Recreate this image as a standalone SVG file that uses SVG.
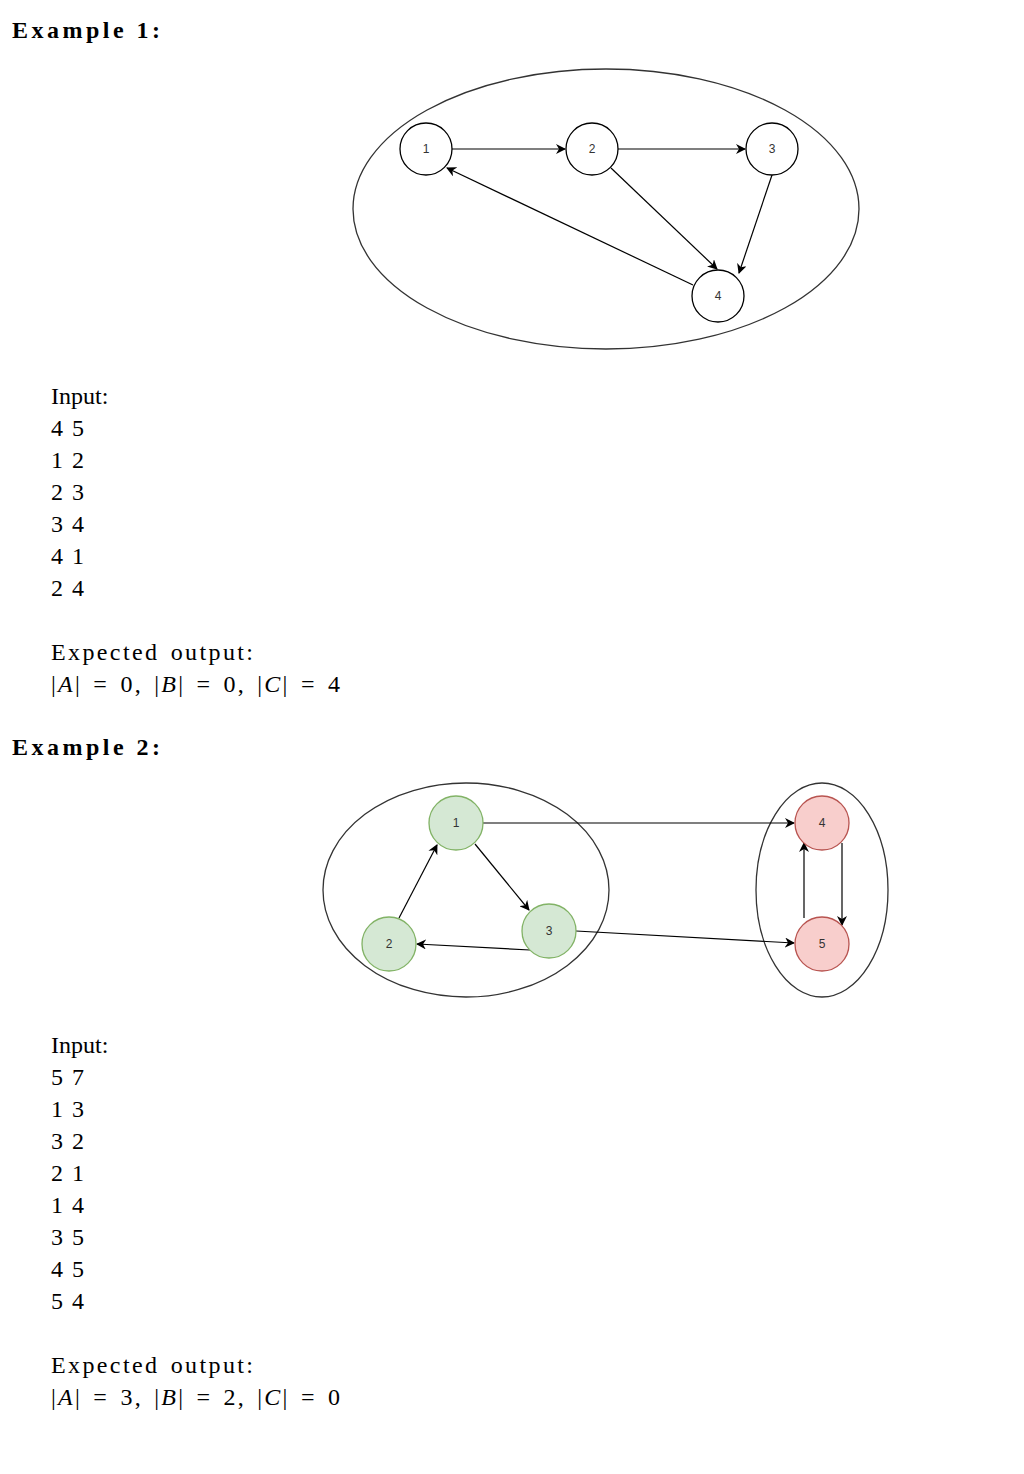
<svg xmlns="http://www.w3.org/2000/svg" width="1024" height="1474" viewBox="0 0 1024 1474">
<style>
.t{font-family:"Liberation Serif","DejaVu Serif",serif;font-size:24px;fill:#000;word-spacing:3px}
.h{font-family:"Liberation Serif","DejaVu Serif",serif;font-size:24px;font-weight:bold;fill:#000}
.i{font-style:italic}
.el{fill:none;stroke:#333;stroke-width:1.3}
.n circle{fill:#fff;stroke:#000;stroke-width:1.3}
.g circle{fill:#d5e8d4;stroke:#82b366;stroke-width:1.3}
.r circle{fill:#f8cecc;stroke:#b85450;stroke-width:1.3}
.lb{font-family:"Liberation Sans",Arial,sans-serif;font-size:12px;fill:#333;text-anchor:middle;dominant-baseline:central}
.e line{stroke:#000;stroke-width:1.2;marker-end:url(#a)}
</style>
<defs><marker id="a" viewBox="0 0 10 10" refX="9" refY="5" markerWidth="10" markerHeight="10" markerUnits="userSpaceOnUse" orient="auto"><path d="M0,0 L10,5 L0,10 L3,5 z" fill="#000"/></marker></defs>
<rect width="1024" height="1474" fill="#fff"/>
<text class="h" x="12" y="38" textLength="148" lengthAdjust="spacing">Example 1:</text>
<ellipse class="el" cx="606" cy="209" rx="253" ry="140"/>
<g class="e" id="edges1">
<line x1="452" y1="149" x2="565" y2="149"/>
<line x1="618" y1="149" x2="745" y2="149"/>
<line x1="772" y1="175" x2="739" y2="273"/>
<line x1="611" y1="168" x2="717" y2="269"/>
<line x1="693" y1="285" x2="447" y2="168"/>
</g>
<g id="n1" class="n"><circle cx="426" cy="149" r="26"/><text class="lb" x="426" y="149">1</text></g>
<g id="n2" class="n"><circle cx="592" cy="149" r="26"/><text class="lb" x="592" y="149">2</text></g>
<g id="n3" class="n"><circle cx="772" cy="149" r="26"/><text class="lb" x="772" y="149">3</text></g>
<g id="n4" class="n"><circle cx="718" cy="296" r="26"/><text class="lb" x="718" y="296">4</text></g>
<text class="t" x="51" y="404">Input:</text>
<text class="t" x="51" y="436">4 5</text>
<text class="t" x="51" y="468">1 2</text>
<text class="t" x="51" y="500">2 3</text>
<text class="t" x="51" y="532">3 4</text>
<text class="t" x="51" y="564">4 1</text>
<text class="t" x="51" y="596">2 4</text>
<text class="t" x="51" y="660" textLength="202" lengthAdjust="spacing">Expected output:</text>
<text class="t" x="51" y="692" textLength="289" lengthAdjust="spacing">|<tspan class="i">A</tspan>| = 0, |<tspan class="i">B</tspan>| = 0, |<tspan class="i">C</tspan>| = 4</text>
<text class="h" x="12" y="755" textLength="148" lengthAdjust="spacing">Example 2:</text>
<ellipse class="el" cx="466" cy="890" rx="143" ry="107"/>
<ellipse class="el" cx="822" cy="890" rx="66" ry="107"/>
<g class="e" id="edges2">
<line x1="483" y1="823" x2="794" y2="823"/>
<line x1="475" y1="844" x2="529" y2="910"/>
<line x1="530" y1="950" x2="417" y2="944"/>
<line x1="399" y1="918" x2="437" y2="845"/>
<line x1="576" y1="931" x2="794" y2="943"/>
<line x1="842" y1="843" x2="842" y2="925"/>
<line x1="804" y1="918" x2="804" y2="843"/>
</g>
<g id="m1" class="g"><circle cx="456" cy="823" r="27"/><text class="lb" x="456" y="823">1</text></g>
<g id="m2" class="g"><circle cx="389" cy="944" r="27"/><text class="lb" x="389" y="944">2</text></g>
<g id="m3" class="g"><circle cx="549" cy="931" r="27"/><text class="lb" x="549" y="931">3</text></g>
<g id="m4" class="r"><circle cx="822" cy="823" r="27"/><text class="lb" x="822" y="823">4</text></g>
<g id="m5" class="r"><circle cx="822" cy="944" r="27"/><text class="lb" x="822" y="944">5</text></g>
<text class="t" x="51" y="1053">Input:</text>
<text class="t" x="51" y="1085">5 7</text>
<text class="t" x="51" y="1117">1 3</text>
<text class="t" x="51" y="1149">3 2</text>
<text class="t" x="51" y="1181">2 1</text>
<text class="t" x="51" y="1213">1 4</text>
<text class="t" x="51" y="1245">3 5</text>
<text class="t" x="51" y="1277">4 5</text>
<text class="t" x="51" y="1309">5 4</text>
<text class="t" x="51" y="1373" textLength="202" lengthAdjust="spacing">Expected output:</text>
<text class="t" x="51" y="1405" textLength="289" lengthAdjust="spacing">|<tspan class="i">A</tspan>| = 3, |<tspan class="i">B</tspan>| = 2, |<tspan class="i">C</tspan>| = 0</text>
</svg>
